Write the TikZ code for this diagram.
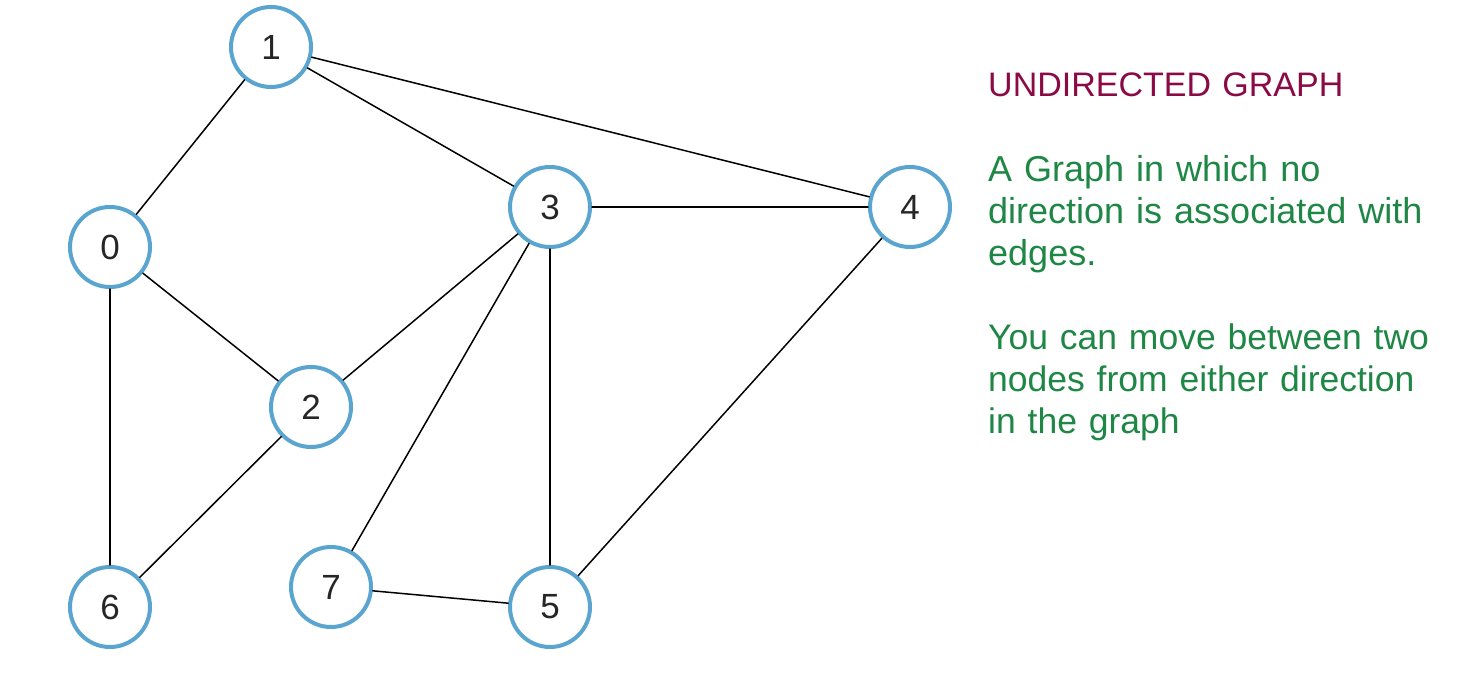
\documentclass[tikz,border=0pt]{standalone}
\usepackage{fontspec}
\setmainfont{Liberation Sans}
\usepackage{tikz}
\usetikzlibrary{positioning}
\definecolor{nodeblue}{HTML}{5AA5D0}
\definecolor{titlered}{HTML}{8A0A45}
\definecolor{textgreen}{HTML}{1E8745}
\tikzstyle{graph node}=[circle,draw=nodeblue,line width=4pt,fill=white,minimum size=80pt,inner sep=0pt,font=\fontsize{35}{40}\selectfont,text=black!85]
\tikzstyle{graph edge}=[line width=1.5pt,line cap=round]
\tikzstyle{side text}=[anchor=base west,inner sep=0pt,align=left,text width=470pt,font=\fontsize{36}{42}\selectfont]
\newcommand{\graphnode}[3]{
  \node [graph node] (#1) at (#2) {#3}
}

\begin{document}
\begin{tikzpicture}[x=1pt,y=-1pt]
    \useasboundingbox (0,0) rectangle (1461,698);
        \graphnode{n1}{271,47}{1};
        \graphnode{n0}{110,247}{0};
        \graphnode{n3}{550,207}{3};
        \graphnode{n4}{910,207}{4};
        \graphnode{n2}{311,407}{2};
        \graphnode{n6}{110,607}{6};
        \graphnode{n7}{331,587}{7};
        \graphnode{n5}{550,607}{5};
      \draw[graph edge] (n1) -- (n0);
            \draw[graph edge] (n1) -- (n3);
                  \draw[graph edge] (n1) -- (n4);
                        \draw[graph edge] (n0) -- (n2);
                              \draw[graph edge] (n0) -- (n6);
                                    \draw[graph edge] (n3) -- (n4);
      \draw[graph edge] (n3) -- (n2);
            \draw[graph edge] (n3) -- (n7);
                  \draw[graph edge] (n3) -- (n5);
                        \draw[graph edge] (n4) -- (n5);
                              \draw[graph edge] (n2) -- (n6);
                                    \draw[graph edge] (n7) -- (n5);

\node[side text,text=titlered,font=\fontsize{34}{42}\selectfont] (title) at (988,97) {UNDIRECTED GRAPH};
\node[side text,text=textgreen] (def) at (988,181) {A Graph in which no\\direction is associated with\\edges.};
\node[side text,text=textgreen,font=\fontsize{35.5}{42}\selectfont] (move) at (988,349) {You can move between two\\nodes from either direction\\in the graph};

      \end{tikzpicture}
\end{document}
